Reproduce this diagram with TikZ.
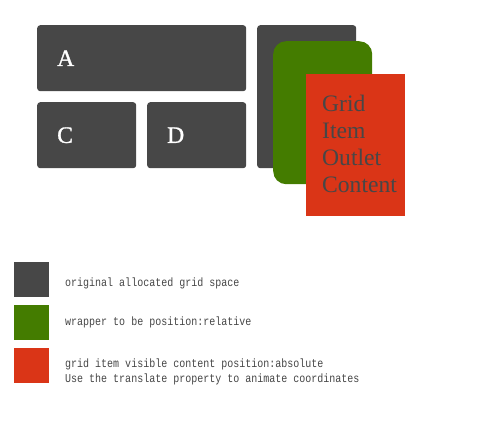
\documentclass[tikz,border=0pt]{standalone}
\usepackage{fontspec}
\setmainfont{Liberation Serif}
\newfontfamily\cellfont[FakeBold=1.2]{Liberation Serif}
\newfontfamily\legendfont[FakeStretch=0.834]{Liberation Mono}
\usetikzlibrary{positioning}

\definecolor{cellgray}{HTML}{474747}
\definecolor{wrapgreen}{HTML}{447C00}
\definecolor{itemred}{HTML}{DA3517}
\definecolor{legendtext}{HTML}{454545}

\tikzset{
  cell/.style={fill=cellgray, rounded corners=3pt, inner sep=0pt, anchor=north west},
  celllabel/.style={text=white, inner sep=0pt, font=\cellfont\fontsize{23.6}{27}\selectfont},
  itemlabel/.style={text=cellgray, inner sep=0pt, align=left, font=\fontsize{23.6}{27}\selectfont},
  key/.style={minimum width=35pt, minimum height=35pt, inner sep=0pt, anchor=north west},
  keytext/.style={text=legendtext, inner sep=0pt, anchor=west, align=left, font=\legendfont\fontsize{12}{15}\selectfont}
}

\begin{document}
\begin{tikzpicture}[x=1pt, y=-1pt]

\useasboundingbox (0, 0) rectangle (479, 444);

% grid cells
\node[cell, minimum width=209pt, minimum height=66pt] (a) at (37, 25) {};
\node[cell, minimum width=99pt, minimum height=143pt] (b) at (257, 25) {};
\node[cell, minimum width=99pt, minimum height=66pt] (c) at (37, 102) {};
\node[cell, minimum width=99pt, minimum height=66pt] (d) at (147, 102) {};

\node[celllabel, right=20pt of a.west] (la) {A};
\node[celllabel, right=20pt of c.west] (lc) {C};
\node[celllabel, right=20pt of d.west] (ld) {D};

% wrapper and item
\node[cell, fill=wrapgreen, rounded corners=13pt, minimum width=99pt, minimum height=143pt] (wrap) at (273, 41) {};
\node[cell, fill=itemred, rounded corners=0pt, minimum width=99pt, minimum height=142pt] (item) at (306, 74) {};
\node[itemlabel, below right=21pt and 16pt of item.north west] (itemtext) {Grid\\Item\\Outlet\\Content};

% legend
\node[key, fill=cellgray] (k1) at (14, 262) {};
\node[key, fill=wrapgreen] (k2) at (14, 305) {};
\node[key, fill=itemred] (k3) at (14, 348) {};

\node[keytext] (t1) at (65, 283) {original allocated grid space};
\node[keytext] (t2) at (65, 322) {wrapper to be position:relative};
\node[keytext] (t3) at (65, 372) {grid item visible content position:absolute\\Use the translate property to animate coordinates};

\end{tikzpicture}
\end{document}
